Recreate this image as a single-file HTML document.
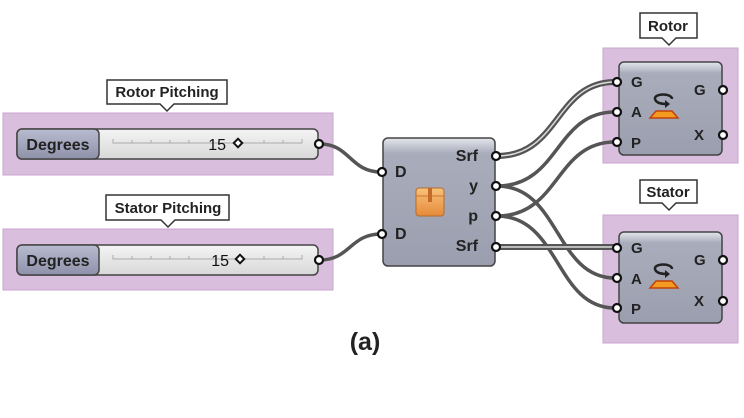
<!DOCTYPE html>
<html><head><meta charset="utf-8"><style>
html,body{margin:0;padding:0;background:#fff;}
svg{display:block;font-family:"Liberation Sans",sans-serif;}
</style></head><body>
<svg width="744" height="418" viewBox="0 0 744 418" xmlns="http://www.w3.org/2000/svg">
<defs>
<linearGradient id="comp" x1="0" y1="0" x2="0" y2="1">
<stop offset="0" stop-color="#e4e6ec"/><stop offset="0.12" stop-color="#a9adbb"/><stop offset="1" stop-color="#9a9eae"/>
</linearGradient>
<linearGradient id="deg" x1="0" y1="0" x2="0" y2="1">
<stop offset="0" stop-color="#b9bcd0"/><stop offset="1" stop-color="#8e91a9"/>
</linearGradient>
<linearGradient id="bar" x1="0" y1="0" x2="0" y2="1">
<stop offset="0" stop-color="#f4f4f4"/><stop offset="1" stop-color="#d8d8d8"/>
</linearGradient>
<linearGradient id="box" x1="0" y1="0" x2="0" y2="1">
<stop offset="0" stop-color="#f8c27a"/><stop offset="1" stop-color="#e58a3a"/>
</linearGradient>
</defs>

<rect x="3" y="113" width="330" height="62" fill="#d9bedd" stroke="#c9a6cf"/>
<rect x="3" y="229" width="330" height="61" fill="#d9bedd" stroke="#c9a6cf"/>
<rect x="603" y="48" width="135" height="115" fill="#d9bedd" stroke="#c9a6cf"/>
<rect x="603" y="215" width="135" height="128" fill="#d9bedd" stroke="#c9a6cf"/>

<g fill="none" stroke="#555" stroke-width="3.5" stroke-linecap="round">
<path d="M320 144 C350 144,350 172,381 172"/>
<path d="M320 260 C350 260,350 234,381 234"/>
<path d="M497 186 C560 186,555 112,615 112"/>
<path d="M497 216 C560 216,555 142,615 142"/>
<path d="M497 186 C560 186,555 278,615 278"/>
<path d="M497 216 C560 216,555 308,615 308"/>
<path d="M497 156 C560 156,555 82,615 82" stroke-width="6"/>
<path d="M497 247 L615 247" stroke-width="6"/>
</g>
<g fill="none" stroke="#ddd" stroke-width="1.5">
<path d="M497 156 C560 156,555 82,615 82"/>
<path d="M497 247 L615 247"/>
</g>

<g>
<rect x="17" y="129" width="301" height="30" rx="5" fill="url(#bar)" stroke="#444" stroke-width="1.5"/>
<rect x="17" y="129" width="82" height="30" rx="5" fill="url(#deg)" stroke="#444" stroke-width="1.5"/>
<text x="58" y="150" font-size="16" font-weight="bold" fill="#222" text-anchor="middle">Degrees</text>
<path d="M113 139 V143 H302 V139 M132 140V143 M151 140V143 M170 140V143 M189 140V143 M264 140V143 M283 140V143" fill="none" stroke="#aaa"/>
<text x="226" y="150" font-size="16" fill="#111" text-anchor="end">15</text>
<rect x="235" y="140" width="6" height="6" transform="rotate(45 238 143)" fill="#fff" stroke="#111" stroke-width="2"/>

<rect x="17" y="245" width="301" height="30" rx="5" fill="url(#bar)" stroke="#444" stroke-width="1.5"/>
<rect x="17" y="245" width="82" height="30" rx="5" fill="url(#deg)" stroke="#444" stroke-width="1.5"/>
<text x="58" y="266" font-size="16" font-weight="bold" fill="#222" text-anchor="middle">Degrees</text>
<path d="M113 255 V259 H302 V255 M132 256V259 M151 256V259 M170 256V259 M189 256V259 M264 256V259 M283 256V259" fill="none" stroke="#aaa"/>
<text x="229" y="266" font-size="16" fill="#111" text-anchor="end">15</text>
<rect x="237" y="256" width="6" height="6" transform="rotate(45 240 259)" fill="#fff" stroke="#111" stroke-width="2"/>
</g>

<g font-size="15" font-weight="bold" fill="#222" text-anchor="middle">
<path d="M107 80 H227 V104 H174 L167 111 L160 104 H107 Z" fill="#fff" stroke="#333" stroke-width="1.5"/>
<text x="167" y="97">Rotor Pitching</text>
<path d="M106 195 H229 V220 H175 L168 227 L161 220 H106 Z" fill="#fff" stroke="#333" stroke-width="1.5"/>
<text x="168" y="213">Stator Pitching</text>
<path d="M640 13 H697 V38 H676 L669 45 L662 38 H640 Z" fill="#fff" stroke="#333" stroke-width="1.5"/>
<text x="668" y="31">Rotor</text>
<path d="M640 180 H697 V203 H676 L669 210 L662 203 H640 Z" fill="#fff" stroke="#333" stroke-width="1.5"/>
<text x="668" y="197">Stator</text>
</g>

<rect x="383" y="138" width="112" height="128" rx="5" fill="url(#comp)" stroke="#444" stroke-width="1.5"/>
<g font-size="16" font-weight="bold" fill="#222">
<text x="395" y="177">D</text><text x="395" y="239">D</text>
<text x="478" y="161" text-anchor="end">Srf</text>
<text x="478" y="191" text-anchor="end">y</text>
<text x="478" y="221" text-anchor="end">p</text>
<text x="478" y="251" text-anchor="end">Srf</text>
</g>
<rect x="416" y="188" width="28" height="28" rx="3" fill="url(#box)" stroke="#b86a2a"/>
<line x1="416" y1="196" x2="444" y2="196" stroke="#c8742e"/>
<rect x="428" y="188" width="4" height="14" fill="#c46a28"/>

<rect x="619" y="62" width="103" height="93" rx="5" fill="url(#comp)" stroke="#444" stroke-width="1.5"/>
<rect x="619" y="232" width="103" height="91" rx="5" fill="url(#comp)" stroke="#444" stroke-width="1.5"/>
<g font-size="15" font-weight="bold" fill="#222">
<text x="631" y="87">G</text><text x="631" y="117">A</text><text x="631" y="148">P</text>
<text x="694" y="95">G</text><text x="694" y="140">X</text>
<text x="631" y="253">G</text><text x="631" y="284">A</text><text x="631" y="314">P</text>
<text x="694" y="265">G</text><text x="694" y="306">X</text>
</g>
<g>
<path d="M672 99 C672 93,654 93,655 99 C656 104,664 104,668 104" fill="none" stroke="#222" stroke-width="2.5"/>
<path d="M665 100 L670 104 L665 108 Z" fill="#222"/>
<path d="M650 118 L656 111 L672 111 L678 118 Z" fill="#f59a20" stroke="#c0420a" stroke-width="1.5"/>
<path d="M672 269 C672 263,654 263,655 269 C656 274,664 274,668 274" fill="none" stroke="#222" stroke-width="2.5"/>
<path d="M665 270 L670 274 L665 278 Z" fill="#222"/>
<path d="M650 288 L656 281 L672 281 L678 288 Z" fill="#f59a20" stroke="#c0420a" stroke-width="1.5"/>
</g>

<g fill="#fff" stroke="#111" stroke-width="2.2">
<circle cx="319" cy="144" r="4"/><circle cx="319" cy="260" r="4"/>
<circle cx="382" cy="172" r="4"/><circle cx="382" cy="234" r="4"/>
<circle cx="496" cy="156" r="4"/><circle cx="496" cy="186" r="4"/>
<circle cx="496" cy="216" r="4"/><circle cx="496" cy="247" r="4"/>
<circle cx="617" cy="82" r="4"/><circle cx="617" cy="112" r="4"/><circle cx="617" cy="142" r="4"/>
<circle cx="723" cy="90" r="4"/><circle cx="723" cy="135" r="4"/>
<circle cx="617" cy="248" r="4"/><circle cx="617" cy="278" r="4"/><circle cx="617" cy="308" r="4"/>
<circle cx="723" cy="260" r="4"/><circle cx="723" cy="301" r="4"/>
</g>

<text x="365" y="350" font-size="25" font-weight="bold" fill="#222" text-anchor="middle">(a)</text>
</svg>
</body></html>
